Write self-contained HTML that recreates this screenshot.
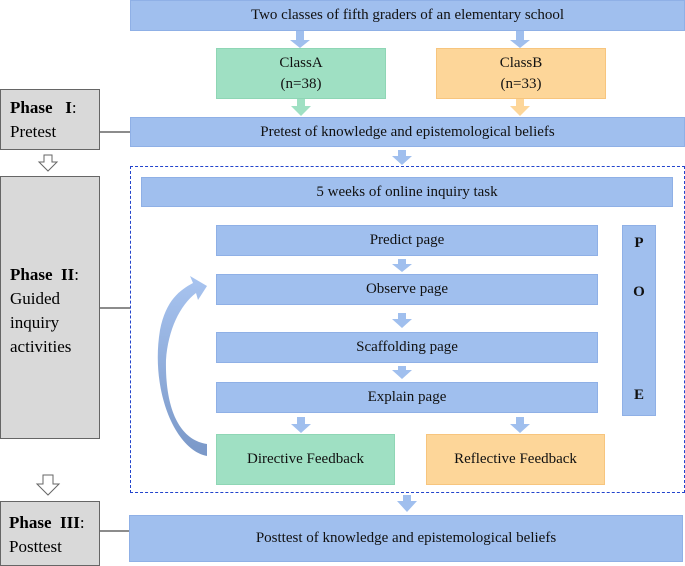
<!DOCTYPE html>
<html><head><style>
body{margin:0;width:685px;height:566px;position:relative;background:#fff;font-family:"Liberation Serif",serif;overflow:hidden}
.b{position:absolute;background:#a0bfee;border:1px solid #8fb0e6;box-sizing:border-box;display:flex;align-items:center;justify-content:center;text-align:center;font-size:15px;color:#111;line-height:1.35}
.g{background:#9fe0c3;border-color:#8fd6b5}
.o{background:#fdd699;border-color:#f7c57e}
.p{position:absolute;background:#d9d9d9;border:1px solid #666;box-sizing:border-box;font-size:17px;padding-left:9px;line-height:1.4}
svg{position:absolute;left:0;top:0}
</style></head><body>
<div class="b" style="left:130px;top:0;width:555px;height:31px">Two classes of fifth graders of an elementary school</div>
<div class="b g" style="left:216px;top:48px;width:170px;height:51px">ClassA<br>(n=38)</div>
<div class="b o" style="left:436px;top:48px;width:170px;height:51px">ClassB<br>(n=33)</div>
<div class="b" style="left:130px;top:117px;width:555px;height:30px">Pretest of knowledge and epistemological beliefs</div>
<div class="p" style="left:0;top:89px;width:100px;height:61px;padding-top:6px"><b>Phase&nbsp;&nbsp;&nbsp;I</b>:<br>Pretest</div>
<div class="p" style="left:0;top:176px;width:100px;height:263px;padding-top:86px;line-height:1.42"><b>Phase&nbsp;&nbsp;II</b>:<br>Guided<br>inquiry<br>activities</div>
<div class="p" style="left:0;top:501px;width:100px;height:65px;padding-top:9px;padding-left:8px"><b>Phase&nbsp;&nbsp;III</b>:<br>Posttest</div>
<div style="position:absolute;left:130px;top:166px;width:555px;height:327px;border:1px dashed #2244cc;box-sizing:border-box"></div>
<div class="b" style="left:141px;top:177px;width:532px;height:30px">5 weeks of online inquiry task</div>
<div class="b" style="left:216px;top:225px;width:382px;height:31px">Predict page</div>
<div class="b" style="left:216px;top:274px;width:382px;height:31px">Observe page</div>
<div class="b" style="left:216px;top:332px;width:382px;height:31px">Scaffolding page</div>
<div class="b" style="left:216px;top:382px;width:382px;height:31px">Explain page</div>
<div class="b" style="left:622px;top:225px;width:34px;height:191px;display:block;font-weight:bold;font-size:15px"><div style="position:absolute;top:7px;width:100%">P</div><div style="position:absolute;top:56px;width:100%">O</div><div style="position:absolute;top:159px;width:100%">E</div></div>
<div class="b g" style="left:216px;top:434px;width:179px;height:51px">Directive Feedback</div>
<div class="b o" style="left:426px;top:434px;width:179px;height:51px">Reflective Feedback</div>
<div class="b" style="left:129px;top:515px;width:554px;height:47px">Posttest of knowledge and epistemological beliefs</div>
<svg width="685" height="566">
<defs><linearGradient id="cg" x1="0" y1="0" x2="0" y2="1"><stop offset="0" stop-color="#a8c4f0"/><stop offset="1" stop-color="#7a98c8"/></linearGradient></defs>
<g fill="#a0bfee">
<path d="M296,31h8v9h6l-10,8l-10-8h6z"/>
<path d="M516,31h8v9h6l-10,8l-10-8h6z"/>
<path d="M398,150h8v6h6l-10,9l-10-9h6z"/>
<path d="M398,259h8v5h6l-10,8l-10-8h6z"/>
<path d="M398,313h8v6h6l-10,9l-10-9h6z"/>
<path d="M398,366h8v4h6l-10,9l-10-9h6z"/>
<path d="M297,417h8v7h6l-10,9l-10-9h6z"/>
<path d="M516,417h8v7h6l-10,9l-10-9h6z"/>
<path d="M403,495h8v6h6l-10,11l-10-11h6z"/>
</g>
<path d="M297,99h8v7h6l-10,10l-10-10h6z" fill="#9fe0c3"/>
<path d="M516,99h8v7h6l-10,10l-10-10h6z" fill="#fdd699"/>
<g fill="#fff" stroke="#666" stroke-width="1">
<path d="M44,155h8v7h5l-9,9l-9-9h5z"/>
<path d="M43,475h10v9h6l-11,11l-11-11h6z"/>
</g>
<g stroke="#666" stroke-width="1.5">
<line x1="100" y1="132" x2="130" y2="132"/>
<line x1="100" y1="308" x2="130" y2="308"/>
<line x1="100" y1="531" x2="129" y2="531"/>
</g>
<path d="M207,456 C175,450 150,390 160,330 C166,300 180,290 193,283 L190,276 L207,286 L198,300 L196,293 C180,305 168,330 166,360 C165,410 180,440 207,444 Z" fill="url(#cg)"/>
</svg>
</body></html>
